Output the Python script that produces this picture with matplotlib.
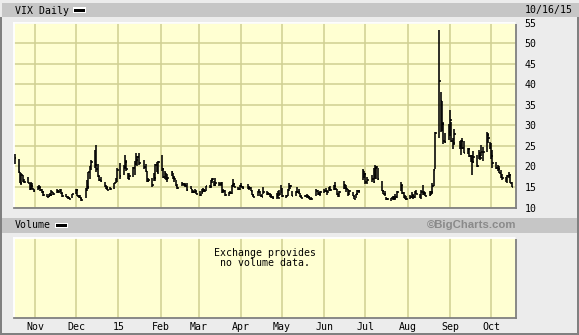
import pandas as pd
import matplotlib
matplotlib.use("Agg")
import matplotlib.pyplot as plt
import matplotlib.dates as mdates
from matplotlib.patches import Rectangle

# VIX daily bars, 10/17/14 .. 10/16/15 (one row per month)
highs = [
    23.1, 21.9, 18.6, 18.3, 18.0, 17.0, 17.5, 16.0, 16.1, 16.0, 14.6,
    15.2, 15.6, 15.0, 14.5, 14.0, 13.4, 13.2, 13.6, 14.2, 13.8, 14.4, 14.2, 14.4, 14.6, 13.6, 13.2, 12.8, 12.5, 13.4,
    14.4, 14.4, 13.0, 13.1, 12.3, 14.8, 16.7, 18.6, 20.1, 21.6, 24.0, 25.2, 20.6, 17.7, 17.5, 16.2, 15.6, 15.2, 14.9, 16.0, 17.3, 19.5,
    20.9, 20.4, 22.7, 21.6, 18.5, 18.4, 19.9, 21.3, 23.3, 22.6, 23.2, 21.5, 20.6, 18.9, 17.2, 17.3, 18.5, 20.5, 21.1, 21.4,
    22.9, 19.7, 18.8, 18.3, 18.2, 18.9, 18.3, 17.6, 16.8, 15.8, 16.3, 16.0, 15.9, 16.0, 15.2, 14.6, 14.2, 14.4, 14.0,
    13.9, 14.5, 14.8, 14.5, 15.3, 15.5, 16.8, 17.2, 16.5, 17.1, 16.3, 16.1, 16.3, 14.6, 14.3, 13.8, 14.1, 15.6, 16.9, 15.9, 15.1, 15.5,
    16.0, 15.2, 15.8, 15.2, 14.9, 14.2, 13.3, 14.1, 14.4, 13.6, 13.2, 15.0, 14.1, 13.7, 13.6, 13.2, 12.7, 13.5, 14.0, 14.3, 15.4,
    14.3, 13.0, 14.4, 16.0, 15.6, 13.9, 14.0, 15.1, 14.6, 13.6, 12.9, 13.1, 13.2, 13.0, 12.7, 12.6, 14.5, 14.3, 13.8, 14.0,
    14.6, 14.7, 14.0, 15.1, 15.3, 15.4, 16.1, 14.5, 13.4, 14.1, 16.4, 15.8, 15.4, 14.4, 14.2, 13.7, 12.9, 13.4, 14.2, 14.3, 19.4, 19.0,
    18.4, 17.4, 18.0, 19.5, 20.3, 20.0, 19.6, 16.5, 14.2, 14.0, 12.6, 12.4, 12.4, 12.7, 12.7, 13.3, 14.0, 16.3, 15.6, 13.7, 13.0, 12.8,
    13.0, 13.8, 13.0, 14.1, 14.3, 13.3, 14.3, 15.6, 14.1, 13.6, 14.0, 14.0, 16.0, 19.3, 28.4, 53.3, 38.2, 36.0, 30.9, 28.2, 30.4,
    33.8, 30.7, 27.0, 29.1, 26.1, 26.5, 27.0, 26.3, 24.6, 24.6, 22.9, 22.9, 23.8, 22.9, 24.0, 23.6, 25.2, 24.7, 28.3, 28.2, 26.0,
    25.7, 23.9, 21.1, 20.4, 20.2, 19.1, 18.2, 17.4, 17.9, 18.7, 18.1, 16.3,
]
lows = [
    20.6, 18.5, 16.0, 15.5, 16.2, 15.9, 15.9, 14.3, 14.3, 14.5, 13.7,
    14.2, 14.4, 14.0, 13.5, 12.9, 12.6, 12.6, 12.8, 12.8, 13.1, 13.5, 13.5, 13.8, 13.4, 12.6, 12.5, 12.0, 12.0, 12.4,
    13.3, 12.8, 12.2, 12.2, 11.6, 12.3, 14.1, 14.6, 16.9, 19.1, 19.5, 18.7, 17.4, 16.4, 16.2, 14.9, 14.5, 14.3, 14.2, 14.6, 15.9, 16.2,
    17.0, 17.9, 19.3, 18.9, 16.9, 16.9, 17.4, 17.8, 20.4, 20.0, 20.3, 19.4, 18.6, 16.2, 16.2, 15.1, 16.5, 16.5, 18.6, 18.2,
    19.0, 17.2, 17.0, 16.6, 16.2, 17.6, 16.9, 16.3, 15.2, 14.6, 15.3, 15.2, 15.1, 13.9, 14.4, 13.5, 13.5, 13.6, 13.2,
    12.9, 13.3, 13.8, 13.8, 13.9, 14.7, 15.0, 15.9, 15.2, 15.2, 15.2, 15.2, 13.6, 13.6, 12.9, 12.9, 13.4, 13.3, 15.0, 15.0, 14.3, 14.3,
    14.9, 14.5, 14.5, 14.2, 13.9, 13.0, 12.5, 12.7, 13.6, 12.8, 12.5, 13.4, 13.1, 13.1, 12.6, 12.3, 12.1, 12.1, 12.3, 12.9, 13.6,
    12.6, 12.4, 12.8, 14.0, 14.6, 12.7, 12.8, 13.6, 13.3, 12.6, 12.3, 12.5, 12.4, 12.4, 12.1, 11.8, 12.7, 13.1, 13.1, 12.8,
    13.6, 13.7, 13.1, 13.9, 14.0, 14.2, 14.3, 13.1, 12.6, 13.0, 14.6, 14.5, 13.8, 12.9, 13.0, 12.7, 12.1, 12.2, 13.1, 13.6, 16.8, 17.3,
    15.7, 15.8, 16.3, 15.9, 17.0, 16.9, 16.6, 13.9, 13.2, 12.8, 11.8, 11.8, 11.7, 11.9, 11.9, 12.0, 12.4, 14.0, 13.3, 12.2, 12.1, 11.8,
    12.1, 12.4, 12.1, 12.3, 13.2, 12.2, 12.6, 13.0, 13.0, 12.8, 12.8, 13.0, 13.2, 15.2, 19.4, 27.0, 28.3, 28.7, 25.4, 25.8, 26.4,
    27.5, 25.9, 24.3, 25.3, 24.3, 22.7, 24.3, 23.2, 23.0, 22.3, 21.1, 18.0, 20.8, 19.9, 21.9, 21.5, 22.6, 21.4, 23.5, 25.6, 24.2,
    21.7, 19.7, 19.4, 18.9, 18.4, 17.3, 16.6, 16.1, 16.5, 17.3, 15.9, 15.0,
]
closes = [
    21.99, 18.57, 16.08, 17.87, 16.53, 16.11, 16.04, 14.39, 15.15, 14.52, 14.03,
    14.73, 14.89, 14.17, 13.67, 13.12, 12.67, 12.92, 13.02, 13.79, 13.31, 13.99, 13.86, 13.96, 13.58, 12.90, 12.62, 12.25, 12.07, 13.33,
    14.29, 12.85, 12.47, 12.38, 11.82, 14.21, 14.89, 18.53, 20.08, 21.08, 20.42, 19.44, 17.61, 16.81, 16.49, 15.25, 14.80, 14.37, 14.50, 15.92, 16.91, 19.20,
    17.79, 19.92, 21.12, 19.31, 17.01, 17.55, 19.60, 20.56, 21.48, 22.39, 20.95, 19.89, 18.85, 16.40, 16.66, 15.52, 17.22, 20.44, 18.76, 20.97,
    19.43, 17.33, 18.33, 16.85, 17.29, 18.55, 17.23, 16.96, 15.34, 14.69, 15.80, 15.45, 15.29, 14.30, 14.56, 13.69, 13.84, 13.91, 13.34,
    13.04, 13.86, 14.23, 14.04, 15.20, 15.06, 16.69, 16.87, 15.42, 16.00, 15.61, 15.66, 13.97, 14.07, 13.02, 13.41, 13.62, 15.44, 15.80, 15.07, 14.51, 15.29,
    15.11, 14.67, 14.74, 14.78, 13.98, 13.09, 12.58, 13.94, 13.67, 12.84, 12.60, 13.89, 13.30, 13.25, 12.71, 12.48, 12.29, 13.12, 12.41, 13.39, 14.55,
    12.70, 12.85, 14.31, 15.15, 15.13, 12.86, 13.85, 13.86, 13.76, 12.74, 12.38, 12.73, 12.85, 12.55, 12.11, 12.13, 14.06, 13.27, 13.31, 13.84,
    14.06, 13.97, 13.66, 14.71, 14.21, 15.29, 14.47, 13.22, 12.85, 13.78, 15.39, 14.81, 14.50, 13.19, 13.96, 12.74, 12.11, 13.26, 14.01, 14.02, 18.85, 18.23,
    16.09, 16.79, 17.01, 16.09, 19.66, 19.97, 16.83, 13.97, 13.37, 13.23, 11.95, 11.95, 12.25, 12.22, 12.12, 12.64, 13.74, 15.60, 13.44, 12.50, 12.13, 12.12,
    12.56, 13.00, 12.51, 13.77, 13.39, 12.23, 13.71, 13.61, 13.49, 12.83, 13.02, 13.79, 15.25, 19.14, 28.03, 40.74, 36.02, 30.32, 26.10, 26.05, 28.43,
    31.40, 26.09, 25.61, 27.80, 24.90, 26.23, 24.37, 23.20, 24.25, 22.54, 21.35, 21.14, 22.28, 20.14, 22.44, 22.13, 23.47, 23.62, 27.63, 26.83, 24.50,
    22.55, 20.94, 19.54, 19.40, 18.40, 17.42, 17.08, 16.17, 17.67, 18.03, 16.05, 15.05,
]

holidays = ["2014-11-27", "2014-12-25", "2015-01-01", "2015-01-19", "2015-02-16",
            "2015-04-03", "2015-05-25", "2015-07-03", "2015-09-07"]
month_ticks = ["2014-11-01", "2014-12-01", "2015-01-01", "2015-02-01", "2015-03-01", "2015-04-01",
               "2015-05-01", "2015-06-01", "2015-07-01", "2015-08-01", "2015-09-01", "2015-10-01"]
month_labels = ["Nov", "Dec", "15", "Feb", "Mar", "Apr", "May", "Jun", "Jul", "Aug", "Sep", "Oct"]
y_ticks = [10, 15, 20, 25, 30, 35, 40, 45, 50, 55]

days = pd.bdate_range("2014-10-17", "2015-10-16", freq="C", holidays=holidays)
x = mdates.date2num(days.to_pydatetime())
assert len(x) == len(closes) == len(highs) == len(lows)

W, H = 579, 335
BG = "#ececec"
BAND = "#c6c6c6"
PLOT = "#ffffd2"
GRID = "#d0d092"
EDGE = "#808080"
MONO = "DejaVu Sans Mono"

fig = plt.figure(figsize=(W / 100, H / 100), dpi=100, facecolor=BG)

def px_rect(x0, y0, w, h, color, z=0):
    fig.add_artist(Rectangle((x0 / W, 1 - (y0 + h) / H), w / W, h / H,
                             transform=fig.transFigure, facecolor=color,
                             edgecolor="none", zorder=z))

def px_text(xp, yp, s, **kw):
    fig.text(xp / W, 1 - yp / H, s, **kw)

# outer frame and header bands
px_rect(0, 17, 1.5, H - 17, EDGE)
px_rect(W - 2, 17, 2, H - 17, EDGE)
px_rect(0, H - 2, W, 2, EDGE)
px_rect(2, 3, W - 2, 14, BAND)
px_rect(2, 218, W - 4, 15, BAND)

px_text(15, 10.5, "VIX Daily", family=MONO, fontsize=7.1, va="center", ha="left")
px_rect(73, 7.5, 13, 5, "white", 1)
px_rect(74, 8.5, 11, 3, "black", 2)
px_text(573, 10.5, "10/16/15", family=MONO, fontsize=7.1, va="center", ha="right")

px_text(15, 225.5, "Volume", family=MONO, fontsize=7.1, va="center", ha="left")
px_rect(55, 222.5, 13, 5, "white", 1)
px_rect(56, 223.5, 11, 3, "black", 2)
px_text(516, 225.5, "\u00a9BigCharts.com", family="Liberation Sans", fontweight="bold",
        fontsize=8.2, color="#8a8a8a", va="center", ha="right")

xmin = mdates.date2num(pd.Timestamp("2014-10-16 15:00"))
xmax = mdates.date2num(pd.Timestamp("2015-10-19 07:00"))
tick_x = mdates.date2num(pd.to_datetime(month_ticks).to_pydatetime())

# price panel
ax = fig.add_axes([14 / W, (H - 207.5) / H, 502 / W, 184.8 / H], facecolor=PLOT)
ax.vlines(x, lows, highs, color="black", lw=1.15, zorder=3)
ax.hlines(closes, x, x + 1.3, color="black", lw=1.15, zorder=3)
ax.set_xlim(xmin, xmax)
ax.set_ylim(10, 55)
ax.set_xticks(tick_x)
ax.set_xticklabels([])
ax.set_yticks(y_ticks)
ax.set_yticklabels([str(v) for v in y_ticks], family=MONO, fontsize=7.1)
ax.yaxis.tick_right()
ax.tick_params(length=0, pad=6)
for lbl in ax.get_yticklabels():
    lbl.set_horizontalalignment("left")
ax.grid(True, color=GRID, lw=1.1)
ax.set_axisbelow(True)

# volume panel
vax = fig.add_axes([14 / W, (H - 317.5) / H, 502 / W, 79.5 / H], facecolor=PLOT)
vax.set_xlim(xmin, xmax)
vax.set_ylim(0, 1)
vax.set_xticks(tick_x)
vax.set_xticklabels(month_labels, family=MONO, fontsize=7.1)
vax.set_yticks([])
vax.tick_params(length=0, pad=3.5)
vax.grid(True, axis="x", color=GRID, lw=1.1)
vax.text(0.5, 0.88, "Exchange provides\nno volume data.", transform=vax.transAxes,
         family=MONO, fontsize=7.1, ha="center", va="top", linespacing=1.0)

for a in (ax, vax):
    a.spines["top"].set_color("white")
    a.spines["left"].set_color("white")
    a.spines["bottom"].set_color(EDGE)
    a.spines["right"].set_color(EDGE)
    for s in a.spines.values():
        s.set_linewidth(1.3)

fig.savefig("out.png", dpi=100, facecolor=BG)
